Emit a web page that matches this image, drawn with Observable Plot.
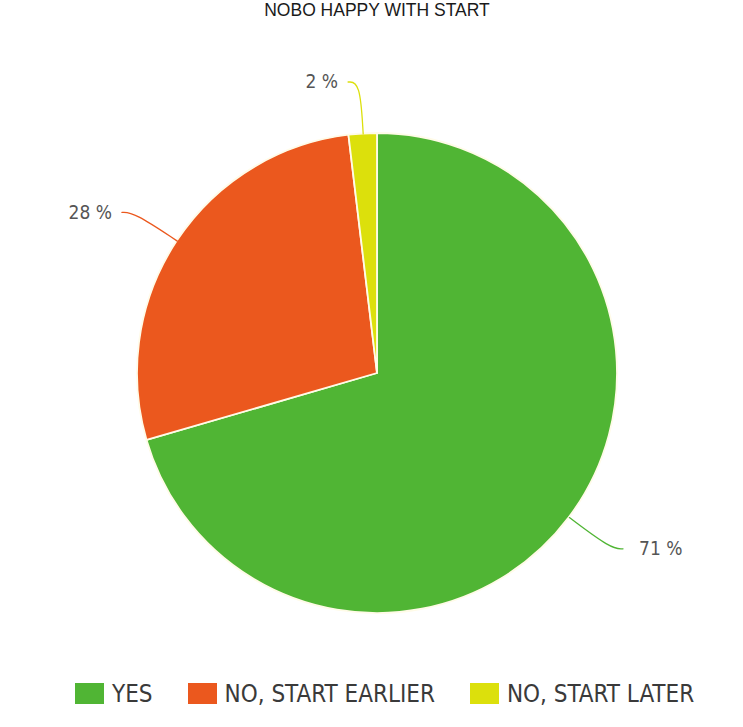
<!DOCTYPE html>
<html><head><meta charset="utf-8">
<script src="https://cdn.jsdelivr.net/npm/d3@7"></script>
<script src="https://cdn.jsdelivr.net/npm/@observablehq/plot@0.6"></script>
<style>
body{margin:0;background:#fff;width:743px;overflow:hidden;}
#title{height:50px;line-height:50px;text-align:center;padding-left:11px;font:17.5px "Liberation Sans",Arial,sans-serif;color:#1a1a1a;}
#chart svg{display:block;}
#legend{padding-top:27px;width:743px;}
#legend .lg-swatches{font:24px "Liberation Sans Narrow","DejaVu Sans Condensed","Arial Narrow",sans-serif !important;color:#3a3a3a;margin-left:75px;line-height:30px;margin-bottom:0;flex-wrap:nowrap !important;white-space:nowrap;}
#legend .lg-swatch{margin-right:35px !important;white-space:nowrap;}
#legend .lg-swatch > svg{margin-right:8px !important;}
</style></head>
<body>
<div id="title">NOBO HAPPY WITH START</div>
<div id="chart"></div>
<div id="legend"></div>
<script>
// ---- data ----
const categories = ["YES", "NO, START EARLIER", "NO, START LATER"];
const values = [70.5, 27.6, 1.9];
const colors = ["#50b534", "#eb581e", "#dce00c"];

// ---- layout ----
const W = 743, H = 600, cx = 377, cy = 323, R = 240, labelDist = 52, hook = 12;

const data = categories.map((cat, i) => ({cat, value: values[i]}));
const pieData = d3.pie().sort(null).value(d => d.value)(data);
const colorScale = Plot.scale({color: {type: "ordinal", domain: categories, range: colors}});

// connectors and labels computed from slice mid-angles
const connPts = [];
const labels = [];
pieData.forEach(p => {
  const a = (p.startAngle + p.endAngle) / 2;
  const s = Math.sin(a), c = Math.cos(a);
  const side = s >= 0 ? 1 : -1;
  const E = [cx + R * s, cy - R * c];
  const C = [cx + (R + labelDist) * s, cy - (R + labelDist) * c];
  const L = [C[0] + side * hook, C[1]];
  connPts.push({cat: p.data.cat, x: L[0], y: L[1]}, {cat: p.data.cat, x: C[0], y: C[1]}, {cat: p.data.cat, x: E[0], y: E[1]});
  labels.push({cat: p.data.cat, x: L[0], y: L[1], side, text: Math.round(p.data.value) + " %"});
});

function slices() {
  const arc = d3.arc().innerRadius(0).outerRadius(R);
  const g = d3.create("svg:g").attr("transform", `translate(${cx},${cy})`);
  g.selectAll("path").data(pieData).join("path")
    .attr("d", arc)
    .attr("fill", d => colorScale.apply(d.data.cat))
    .attr("stroke", "#fffbe8")
    .attr("stroke-width", 1.8)
    .attr("stroke-linejoin", "round");
  return g.node();
}

const labelFont = "'Liberation Sans Narrow','DejaVu Sans Condensed',sans-serif";
const chart = Plot.plot({
  width: W, height: H,
  margin: 0,
  x: {type: "identity", axis: null},
  y: {type: "identity", axis: null},
  color: {type: "ordinal", domain: categories, range: colors},
  marks: [
    slices,
    Plot.line(connPts, {x: "x", y: "y", z: "cat", stroke: "cat", strokeWidth: 1.3, curve: "basis"}),
    Plot.text(labels.filter(d => d.side > 0), {x: "x", y: "y", text: "text", textAnchor: "start", dx: 16, fontSize: 19, fill: "#555", fontFamily: labelFont}),
    Plot.text(labels.filter(d => d.side < 0), {x: "x", y: "y", text: "text", textAnchor: "end", dx: -10, fontSize: 19, fill: "#555", fontFamily: labelFont})
  ]
});
document.getElementById("chart").appendChild(chart);

const legend = Plot.legend({
  color: {type: "ordinal", domain: categories, range: colors},
  legend: "swatches",
  swatchWidth: 29, swatchHeight: 21,
  className: "lg"
});
document.getElementById("legend").appendChild(legend);
</script>
</body></html>
